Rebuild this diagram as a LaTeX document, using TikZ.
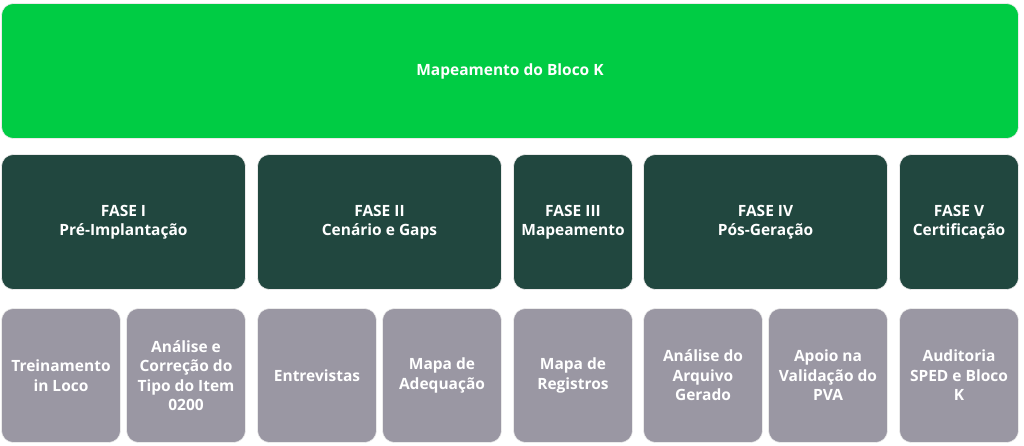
\documentclass[tikz,border=0pt]{standalone}
\usepackage{fontspec}
\setmainfont{Open Sans}
\usepackage{tikz}
\usetikzlibrary{positioning}
\definecolor{topgreen}{RGB}{0,204,68}
\definecolor{fasegreen}{RGB}{33,71,63}
\definecolor{itemgray}{RGB}{154,151,163}

\begin{document}
\begin{tikzpicture}[x=1pt, y=-1pt,
  box/.style={rounded corners=12pt, inner sep=0pt, align=center, text=white,
    font=\fontsize{15.5}{19.5}\selectfont\bfseries, draw=black!8, line width=0.6pt},
  topbox/.style={box, fill=topgreen, minimum width=1017pt, minimum height=135pt},
  fasebox/.style={box, fill=fasegreen, minimum height=135pt},
  itembox/.style={box, fill=itemgray, minimum width=119pt, minimum height=134pt}]
  \useasboundingbox (0,0) rectangle (1024,445);
  % topo
  \node[topbox] (top) at (510,71) {Mapeamento do Bloco K};
  % fases
  \node[fasebox, minimum width=244pt] (f1) at (123.5,222) {FASE I\\Pré-Implantação};
  \node[fasebox, minimum width=244pt] (f2) at (379.5,222) {FASE II\\Cenário e Gaps};
  \node[fasebox, minimum width=119pt] (f3) at (573,222) {FASE III\\Mapeamento};
  \node[fasebox, minimum width=244pt] (f4) at (765.5,222) {FASE IV\\Pós-Geração};
  \node[fasebox, minimum width=119pt] (f5) at (959,222) {FASE V\\Certificação};
  % atividades
  \node[itembox] (a1) at (61,375.5) {Treinamento\\in Loco};
  \node[itembox] (a2) at (186,375.5) {Análise e\\Correção do\\Tipo do Item\\0200};
  \node[itembox] (a3) at (317,375.5) {Entrevistas};
  \node[itembox] (a4) at (442,375.5) {Mapa de\\Adequação};
  \node[itembox] (a5) at (573,375.5) {Mapa de\\Registros};
  \node[itembox] (a6) at (703,375.5) {Análise do\\Arquivo\\Gerado};
  \node[itembox] (a7) at (828,375.5) {Apoio na\\Validação do\\PVA};
  \node[itembox] (a8) at (959,375.5) {Auditoria\\SPED e Bloco\\K};
\end{tikzpicture}
\end{document}
